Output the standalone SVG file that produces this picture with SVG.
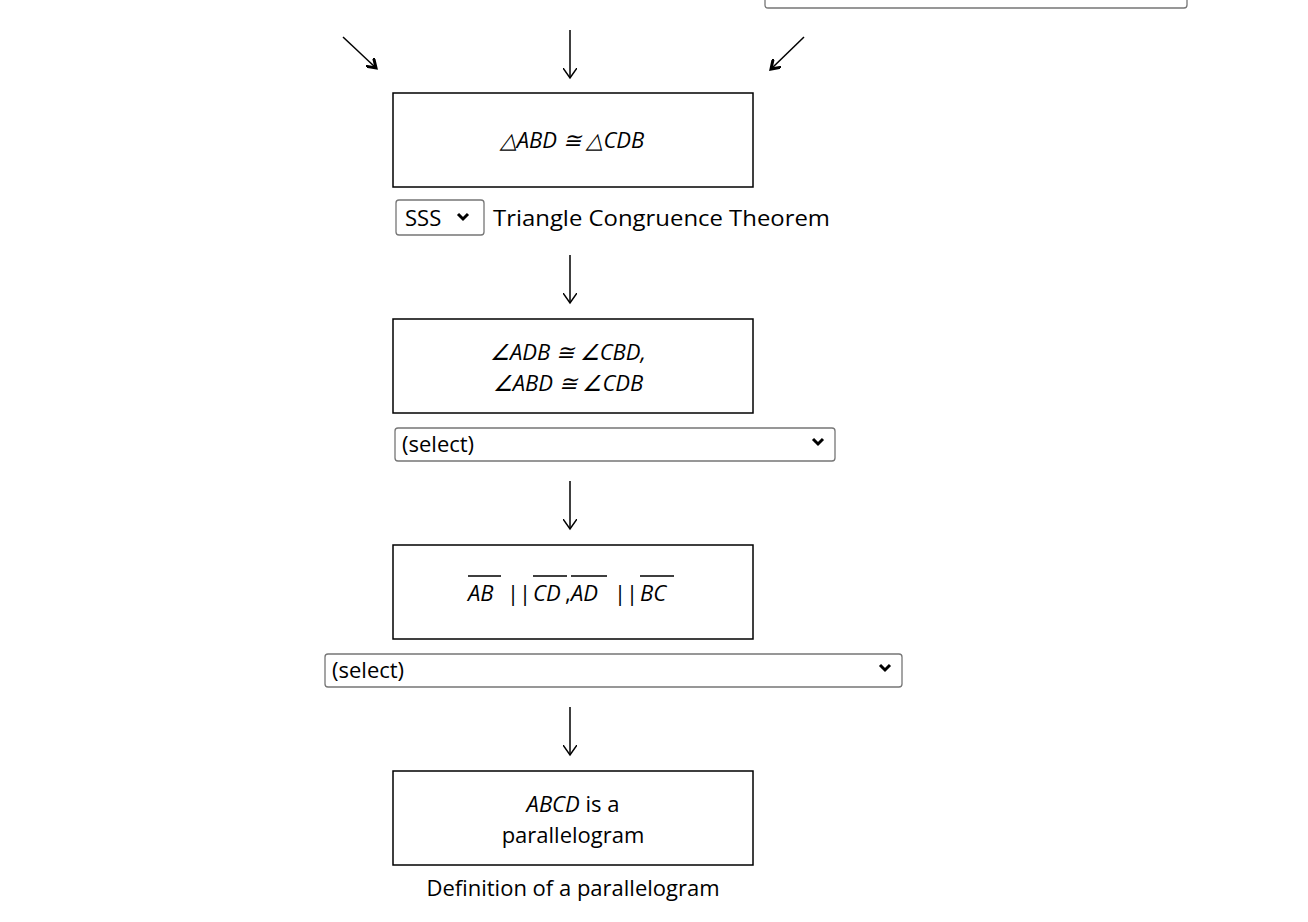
<svg xmlns="http://www.w3.org/2000/svg" width="1308" height="922" viewBox="0 0 1308 922">
<style>
.b{fill:#fff;stroke:#000;stroke-width:1.5}
.s{fill:#fff;stroke:#767676;stroke-width:1.3}
text{font-family:"Open Sans","Liberation Sans",sans-serif;font-size:22px;fill:#000}
.m{text-anchor:middle}
.i{font-style:italic}
.a{stroke:#000;stroke-width:1.5;fill:none}
.ch{stroke:#000;stroke-width:3;fill:none}
</style>
<defs><marker id="ah" markerWidth="14" markerHeight="14" refX="10" refY="7" orient="auto" markerUnits="userSpaceOnUse"><path d="M0,0 L10,7 L0,14" fill="none" stroke="#000" stroke-width="1.5"/></marker>
<marker id="ah2" markerWidth="12" markerHeight="12" refX="9" refY="6" orient="auto" markerUnits="userSpaceOnUse"><path d="M0,0 L9,6 L0,12" fill="none" stroke="#000" stroke-width="3"/></marker></defs>
<g id="topbox"><path class="s" d="M765,-5 V5 Q765,8 768,8 H1184 Q1187,8 1187,5 V-5"/></g>
<g id="connectors">
<line class="a" x1="343" y1="37" x2="376" y2="68" marker-end="url(#ah2)"/>
<line class="a" x1="570" y1="30" x2="570" y2="78" marker-end="url(#ah)"/>
<line class="a" x1="804" y1="37" x2="771" y2="69" marker-end="url(#ah2)"/>
<line class="a" x1="570" y1="255" x2="570" y2="303" marker-end="url(#ah)"/>
<line class="a" x1="570" y1="481" x2="570" y2="529" marker-end="url(#ah)"/>
<line class="a" x1="570" y1="707" x2="570" y2="755" marker-end="url(#ah)"/>
</g>
<g id="n1"><rect class="b" x="393" y="93" width="360" height="94"/><text class="m i" x="572" y="148">△ABD ≅ △CDB</text></g>
<g id="sel1"><rect class="s" x="396" y="200" width="88" height="35" rx="3"/><text x="405" y="226">SSS</text><path class="ch" d="M458,214 l5,5 l5,-5"/><text x="493" y="226" textLength="337" lengthAdjust="spacingAndGlyphs">Triangle Congruence Theorem</text></g>
<g id="n2"><rect class="b" x="393" y="319" width="360" height="94"/><text class="m i" x="568" y="360">∠ADB ≅ ∠CBD,</text><text class="m i" x="568" y="391">∠ABD ≅ ∠CDB</text></g>
<g id="sel2"><rect class="s" x="395" y="428" width="440" height="33" rx="3"/><text x="402" y="452">(select)</text><path class="ch" d="M813,439 l5,5 l5,-5"/></g>
<g id="n3"><rect class="b" x="393" y="545" width="360" height="94"/>
<text class="i" x="468" y="601">AB</text><text x="507" y="601">||</text><text class="i" x="533" y="601">CD</text><text x="565" y="601">,</text><text class="i" x="571" y="601">AD</text><text x="614" y="601">||</text><text class="i" x="640" y="601">BC</text>
<path class="a" d="M468,576 H501 M533,576 H567 M571,576 H607 M640,576 H674"/></g>
<g id="sel3"><rect class="s" x="325" y="654" width="577" height="33" rx="3"/><text x="332" y="678">(select)</text><path class="ch" d="M880,665 l5,5 l5,-5"/></g>
<g id="n4"><rect class="b" x="393" y="771" width="360" height="94"/><text class="m" x="573" y="812"><tspan class="i">ABCD</tspan> is a</text><text class="m" x="573" y="843">parallelogram</text></g>
<text class="m" x="573" y="896">Definition of a parallelogram</text>
</svg>
